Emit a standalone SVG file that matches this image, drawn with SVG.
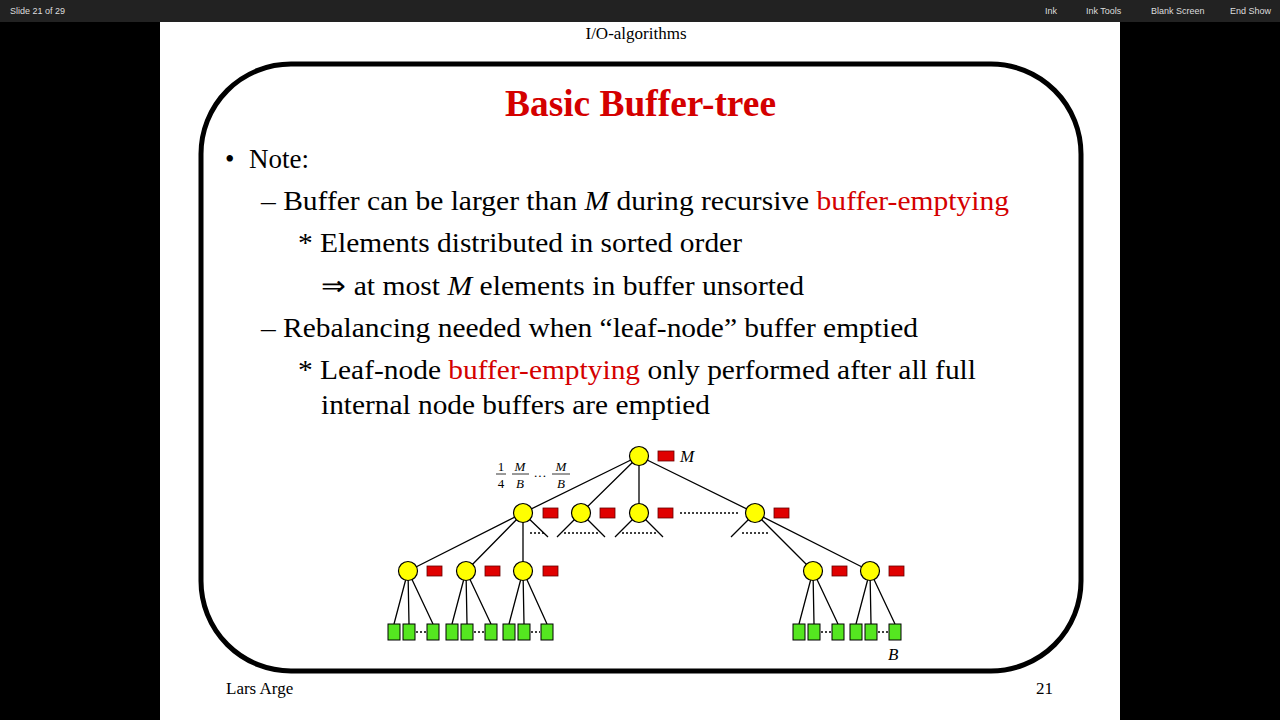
<svg xmlns="http://www.w3.org/2000/svg" width="1280" height="720" viewBox="0 0 1280 720">
<style>
.t{font-family:"Liberation Serif",serif;fill:#000}
.r{fill:#d40000}
.c{fill:#ffff00;stroke:#000;stroke-width:1.2}
.b{fill:#e00000;stroke:#600;stroke-width:0.8}
.g{fill:#55e620;stroke:#000;stroke-width:1}
.l{stroke:#000;stroke-width:1.3;fill:none}
.d{stroke:#000;stroke-width:1.5;stroke-dasharray:2 2;fill:none}
.ui{font-family:"Liberation Sans",sans-serif;font-size:9px;fill:#ddd}
</style>
<rect width="1280" height="720" fill="#000"/>
<rect width="1280" height="22" fill="#222"/>
<text class="ui" x="10" y="14">Slide 21 of 29</text>
<text class="ui" x="1045" y="14">Ink</text>
<text class="ui" x="1086" y="14">Ink Tools</text>
<text class="ui" x="1151" y="14">Blank Screen</text>
<text class="ui" x="1230" y="14">End Show</text>
<rect x="160" y="22" width="960" height="698" fill="#fff"/>
<text class="t" x="636" y="39" font-size="17" text-anchor="middle">I/O-algorithms</text>
<rect x="201" y="64" width="880" height="607" rx="90" fill="none" stroke="#000" stroke-width="5"/>
<text class="t r" x="505" y="116" font-size="37" font-weight="bold" textLength="271" lengthAdjust="spacingAndGlyphs">Basic Buffer-tree</text>
<g font-size="27">
<text class="t" x="225" y="168">•</text>
<text class="t" x="249" y="168">Note:</text>
<text class="t" x="261" y="210" textLength="748" lengthAdjust="spacingAndGlyphs">– Buffer can be larger than <tspan font-style="italic">M</tspan> during recursive <tspan class="r">buffer-emptying</tspan></text>
<text class="t" x="298" y="252" textLength="444" lengthAdjust="spacingAndGlyphs">* Elements distributed in sorted order</text>
<text class="t" x="321" y="295" textLength="483" lengthAdjust="spacingAndGlyphs">⇒ at most <tspan font-style="italic">M</tspan> elements in buffer unsorted</text>
<text class="t" x="261" y="337" textLength="657" lengthAdjust="spacingAndGlyphs">– Rebalancing needed when “leaf-node” buffer emptied</text>
<text class="t" x="298" y="379" textLength="678" lengthAdjust="spacingAndGlyphs">* Leaf-node <tspan class="r">buffer-emptying</tspan> only performed after all full</text>
<text class="t" x="321" y="414" textLength="389" lengthAdjust="spacingAndGlyphs">internal node buffers are emptied</text>
</g>
<text class="t" x="226" y="694" font-size="17">Lars Arge</text>
<text class="t" x="1053" y="694" font-size="17" text-anchor="end">21</text>
<g id="connectors">
<path class="l" d="M639 456L523 513M639 456L581 513M639 456L639 513M639 456L755 513"/>
<path class="l" d="M523 513L408 571M523 513L466 571M523 513L523 571M523 513L548 537"/>
<path class="l" d="M581 513L557 537M581 513L605 537M639 513L615 537M639 513L663 537M755 513L731 537"/>
<path class="l" d="M755 513L813 571M755 513L870 571"/>
<path class="l" d="M408 571L394 624M408 571L409 624M408 571L433 624M466 571L452 624M466 571L467 624M466 571L491 624M523 571L509 624M523 571L524 624M523 571L547 624"/>
<path class="l" d="M813 571L799 624M813 571L814 624M813 571L838 624M870 571L856 624M870 571L871 624M870 571L895 624"/>
<path class="d" d="M680 513H740M530 533H545M564 533H600M622 533H656M742 533H770M416 632H426M474 632H484M531 632H540M821 632H831M878 632H888"/>
</g>
<g id="labels">
<text class="t" x="501" y="471" font-size="13" text-anchor="middle">1</text>
<line x1="496" y1="474" x2="506" y2="474" stroke="#000" stroke-width="0.8"/>
<text class="t" x="501" y="488" font-size="13" text-anchor="middle">4</text>
<text class="t" x="520" y="471" font-size="13" font-style="italic" text-anchor="middle">M</text>
<line x1="512" y1="474" x2="529" y2="474" stroke="#000" stroke-width="0.8"/>
<text class="t" x="520" y="488" font-size="13" font-style="italic" text-anchor="middle">B</text>
<text class="t" x="540" y="480" font-size="13" text-anchor="middle">···</text>
<text class="t" x="561" y="471" font-size="13" font-style="italic" text-anchor="middle">M</text>
<line x1="552" y1="474" x2="570" y2="474" stroke="#000" stroke-width="0.8"/>
<text class="t" x="561" y="488" font-size="13" font-style="italic" text-anchor="middle">B</text>
<text class="t" x="680" y="462" font-size="17" font-style="italic">M</text>
<text class="t" x="888" y="660" font-size="17" font-style="italic">B</text>
</g>
<g id="root"><circle class="c" cx="639" cy="456" r="9.5"/><rect class="b" x="658" y="451" width="16" height="10"/></g>
<g id="n2a"><circle class="c" cx="523" cy="513" r="9.5"/><rect class="b" x="543" y="508" width="15" height="10"/></g>
<g id="n2b"><circle class="c" cx="581" cy="513" r="9.5"/><rect class="b" x="600" y="508" width="15" height="10"/></g>
<g id="n2c"><circle class="c" cx="639" cy="513" r="9.5"/><rect class="b" x="658" y="508" width="15" height="10"/></g>
<g id="n2d"><circle class="c" cx="755" cy="513" r="9.5"/><rect class="b" x="774" y="508" width="15" height="10"/></g>
<g id="n3a"><circle class="c" cx="408" cy="571" r="9.5"/><rect class="b" x="427" y="566" width="15" height="10"/></g>
<g id="n3b"><circle class="c" cx="466" cy="571" r="9.5"/><rect class="b" x="485" y="566" width="15" height="10"/></g>
<g id="n3c"><circle class="c" cx="523" cy="571" r="9.5"/><rect class="b" x="543" y="566" width="15" height="10"/></g>
<g id="n3d"><circle class="c" cx="813" cy="571" r="9.5"/><rect class="b" x="832" y="566" width="15" height="10"/></g>
<g id="n3e"><circle class="c" cx="870" cy="571" r="9.5"/><rect class="b" x="889" y="566" width="15" height="10"/></g>
<g id="leaves">
<rect class="g" x="388" y="624" width="12" height="16"/><rect class="g" x="403" y="624" width="12" height="16"/><rect class="g" x="427" y="624" width="12" height="16"/>
<rect class="g" x="446" y="624" width="12" height="16"/><rect class="g" x="461" y="624" width="12" height="16"/><rect class="g" x="485" y="624" width="12" height="16"/>
<rect class="g" x="503" y="624" width="12" height="16"/><rect class="g" x="518" y="624" width="12" height="16"/><rect class="g" x="541" y="624" width="12" height="16"/>
<rect class="g" x="793" y="624" width="12" height="16"/><rect class="g" x="808" y="624" width="12" height="16"/><rect class="g" x="832" y="624" width="12" height="16"/>
<rect class="g" x="850" y="624" width="12" height="16"/><rect class="g" x="865" y="624" width="12" height="16"/><rect class="g" x="889" y="624" width="12" height="16"/>
</g>
</svg>
